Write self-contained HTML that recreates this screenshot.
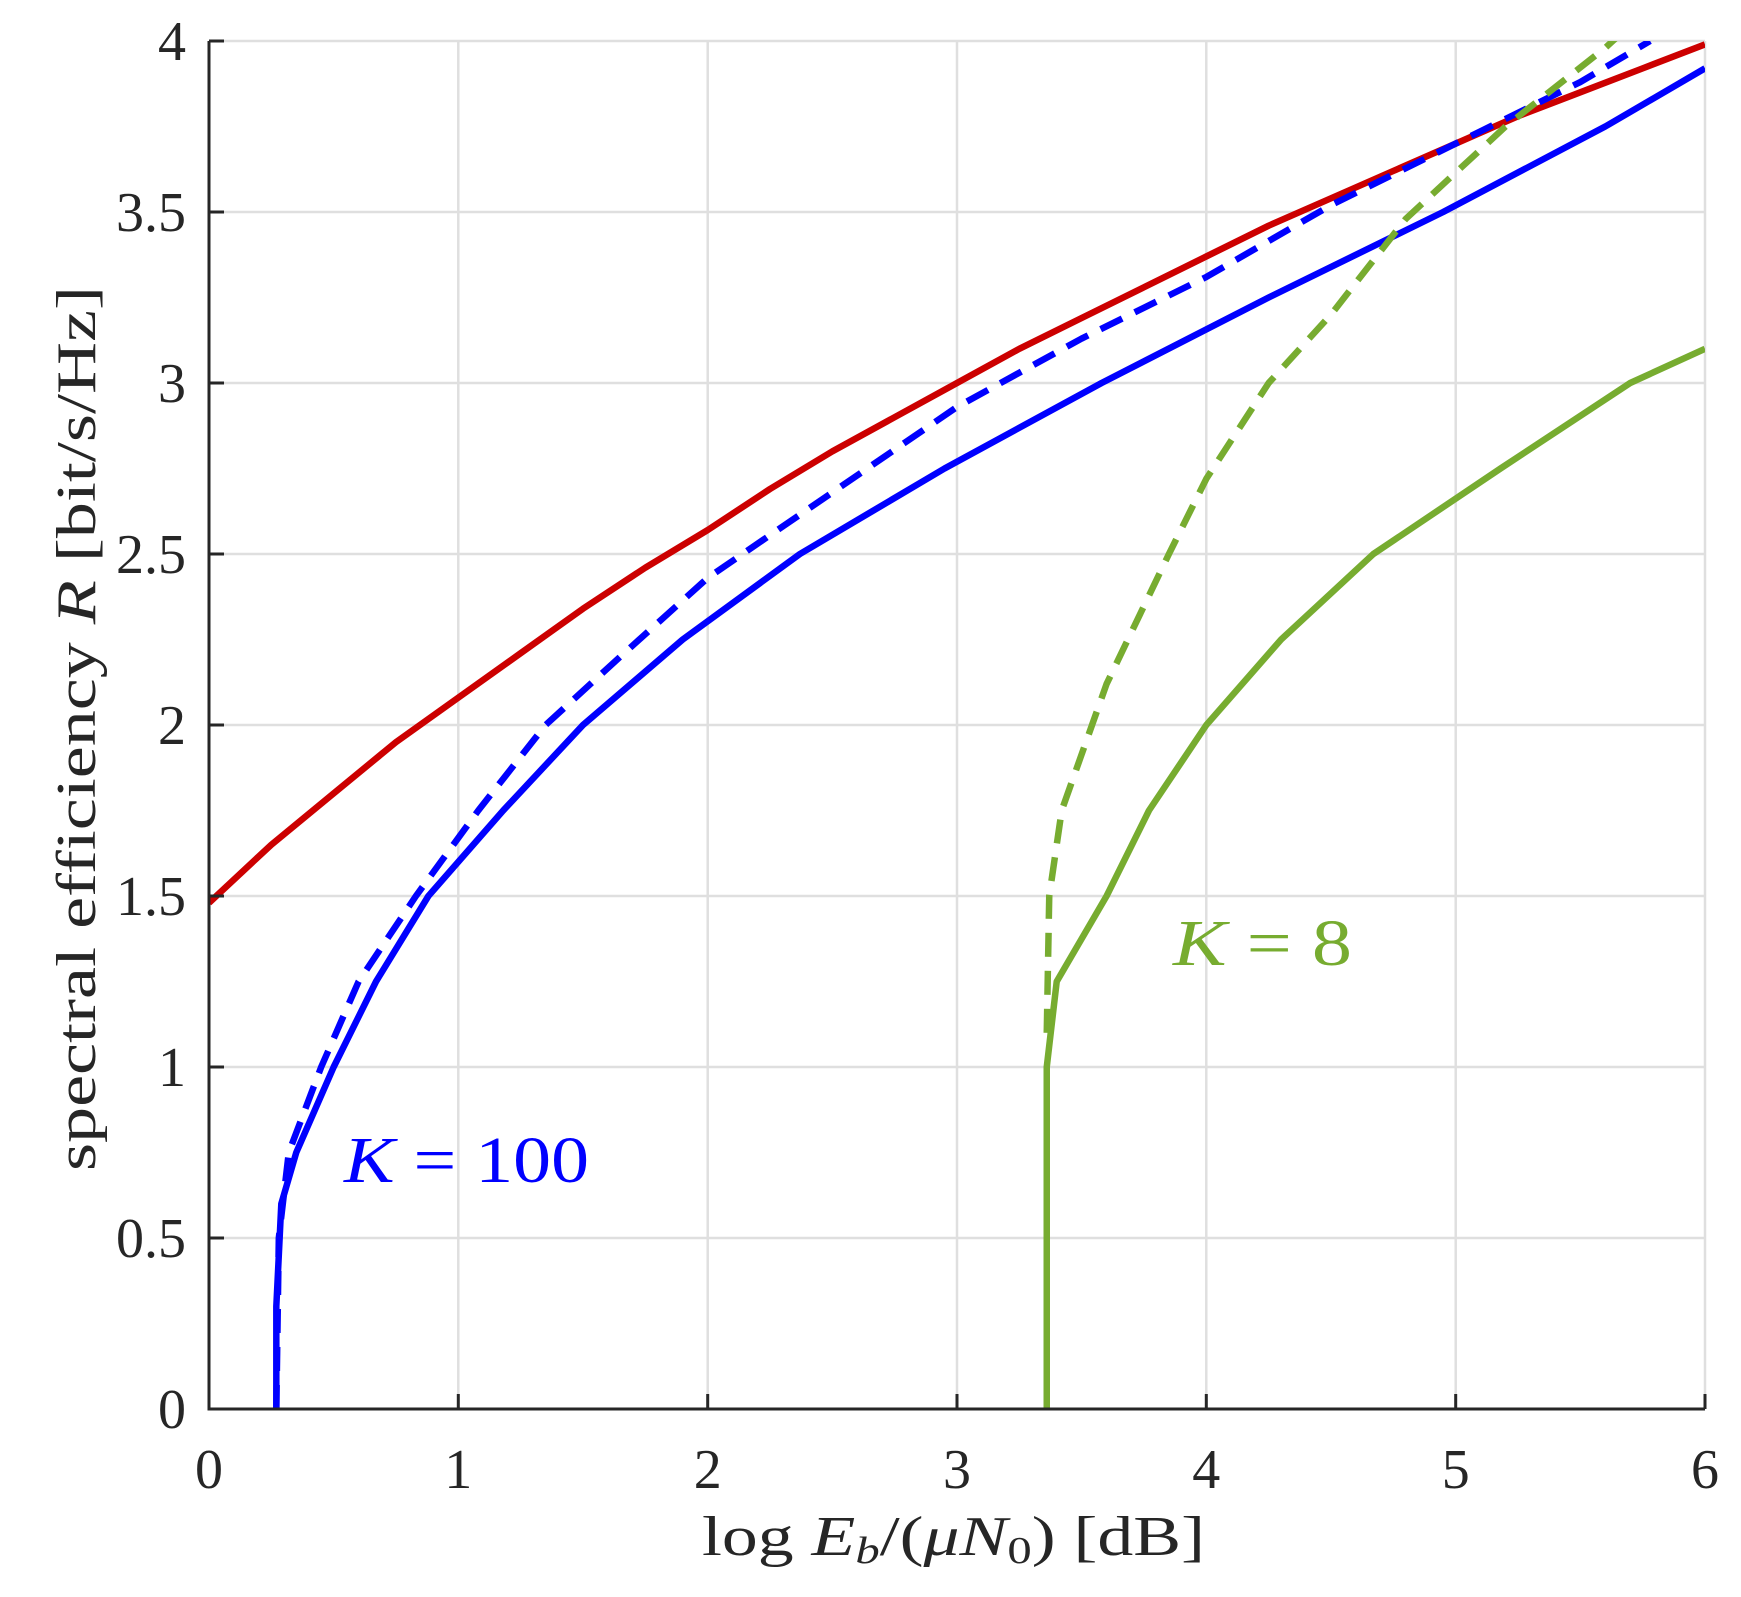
<!DOCTYPE html>
<html><head><style>html,body{margin:0;padding:0;background:#fff}svg{display:block}</style></head>
<body>
<svg width="1741" height="1597" viewBox="0 0 1741 1597" xmlns="http://www.w3.org/2000/svg" font-family="'Liberation Serif', serif">
<defs><clipPath id="c"><rect x="209" y="41" width="1496" height="1368"/></clipPath></defs>
<g stroke="#dfdfdf" stroke-width="2.5">
<line x1="458.3" y1="41" x2="458.3" y2="1409"/><line x1="707.7" y1="41" x2="707.7" y2="1409"/>
<line x1="957" y1="41" x2="957" y2="1409"/><line x1="1206.3" y1="41" x2="1206.3" y2="1409"/>
<line x1="1455.7" y1="41" x2="1455.7" y2="1409"/><line x1="1705" y1="41" x2="1705" y2="1409"/>
<line x1="209" y1="41" x2="1705" y2="41"/><line x1="209" y1="212" x2="1705" y2="212"/>
<line x1="209" y1="383" x2="1705" y2="383"/><line x1="209" y1="554" x2="1705" y2="554"/>
<line x1="209" y1="725" x2="1705" y2="725"/><line x1="209" y1="896" x2="1705" y2="896"/>
<line x1="209" y1="1067" x2="1705" y2="1067"/><line x1="209" y1="1238" x2="1705" y2="1238"/>
</g>
<g clip-path="url(#c)" fill="none" stroke-width="6.5" stroke-linejoin="round">
<g transform="translate(209,1409) scale(249.33,-342)">
<polyline vector-effect="non-scaling-stroke" stroke="#cc0000" points="0,1.48 0.25,1.65 0.5,1.8 0.75,1.95 1,2.08 1.25,2.21 1.5,2.34 1.75,2.46 2,2.57 2.25,2.69 2.5,2.8 2.75,2.9 3,3.0 3.25,3.1 3.5,3.19 3.75,3.28 4,3.37 4.25,3.46 4.5,3.54 4.75,3.62 5,3.70 5.25,3.78 5.5,3.85 5.75,3.92 6,3.99"/>
<polyline vector-effect="non-scaling-stroke" stroke="#0000ff" points="0.27,0 0.27,0.3 0.29,0.6 0.35,0.75 0.5,1.0 0.67,1.25 0.88,1.5 1.18,1.75 1.5,2.0 1.9,2.25 2.37,2.5 2.95,2.75 3.58,3.0 4.25,3.25 4.95,3.5 5.6,3.75 6,3.92"/>
<polyline vector-effect="non-scaling-stroke" stroke="#0000ff" stroke-dasharray="24,14" points="0.27,0 0.28,0.5 0.32,0.75 0.45,1.0 0.6,1.25 0.83,1.5 1.08,1.75 1.35,2.0 1.65,2.2 2.0,2.43 2.5,2.68 3,2.93 3.5,3.13 4,3.31 4.5,3.52 5,3.70 5.5,3.88 5.78,4.0"/>
<polyline vector-effect="non-scaling-stroke" stroke="#77ac30" points="3.36,0 3.36,1.0 3.4,1.25 3.6,1.5 3.77,1.75 4.0,2.0 4.3,2.25 4.67,2.5 5.18,2.75 5.7,3.0 6,3.1"/>
<polyline vector-effect="non-scaling-stroke" stroke="#77ac30" stroke-dasharray="24,14" points="3.36,1.1 3.37,1.5 3.42,1.75 3.6,2.12 3.85,2.5 4.0,2.72 4.25,3.0 4.5,3.2 4.8,3.48 5.2,3.75 5.6,3.98 5.75,4.08"/>
</g></g>
<g stroke="#262626" stroke-width="3" fill="none">
<polyline points="209,41 209,1409 1705,1409"/>
<line x1="458.3" y1="1409" x2="458.3" y2="1394"/><line x1="707.7" y1="1409" x2="707.7" y2="1394"/>
<line x1="957" y1="1409" x2="957" y2="1394"/><line x1="1206.3" y1="1409" x2="1206.3" y2="1394"/>
<line x1="1455.7" y1="1409" x2="1455.7" y2="1394"/><line x1="1705" y1="1409" x2="1705" y2="1394"/>
<line x1="209" y1="41" x2="224" y2="41"/><line x1="209" y1="212" x2="224" y2="212"/>
<line x1="209" y1="383" x2="224" y2="383"/><line x1="209" y1="554" x2="224" y2="554"/>
<line x1="209" y1="725" x2="224" y2="725"/><line x1="209" y1="896" x2="224" y2="896"/>
<line x1="209" y1="1067" x2="224" y2="1067"/><line x1="209" y1="1238" x2="224" y2="1238"/>
</g>
<g fill="#262626" font-size="56" text-anchor="middle">
<text x="209" y="1488">0</text><text x="458.3" y="1488">1</text><text x="707.7" y="1488">2</text>
<text x="957" y="1488">3</text><text x="1206.3" y="1488">4</text><text x="1455.7" y="1488">5</text><text x="1705" y="1488">6</text>
</g>
<g fill="#262626" font-size="56" text-anchor="end">
<text x="186" y="60">4</text><text x="186" y="231">3.5</text><text x="186" y="402">3</text>
<text x="186" y="573">2.5</text><text x="186" y="744">2</text><text x="186" y="915">1.5</text>
<text x="186" y="1086">1</text><text x="186" y="1257">0.5</text><text x="186" y="1428">0</text>
</g>
<text x="702" y="1555" font-size="56" fill="#262626" textLength="503" lengthAdjust="spacingAndGlyphs">log <tspan font-style="italic">E</tspan><tspan font-style="italic" font-size="38" dy="8">b</tspan><tspan dy="-8">/(</tspan><tspan font-style="italic">μN</tspan><tspan font-size="38" dy="8">0</tspan><tspan dy="-8">) [dB]</tspan></text>
<text transform="translate(95,1171) rotate(-90)" font-size="56" fill="#262626" textLength="885" lengthAdjust="spacingAndGlyphs">spectral efficiency <tspan font-style="italic">R</tspan> [bit/s/Hz]</text>
<text x="344" y="1182" font-size="66" fill="#0000ff" textLength="245" lengthAdjust="spacingAndGlyphs"><tspan font-style="italic">K</tspan> = 100</text>
<text x="1173" y="965" font-size="66" fill="#77ac30" textLength="179" lengthAdjust="spacingAndGlyphs"><tspan font-style="italic">K</tspan> = 8</text>
</svg>
</body></html>
